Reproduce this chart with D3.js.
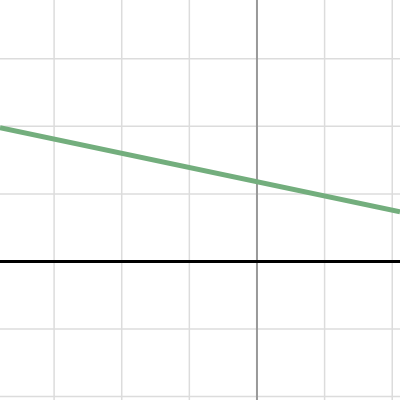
<!DOCTYPE html>
<html><head><meta charset="utf-8">
<script src="https://cdn.jsdelivr.net/npm/d3@7"></script>
<style>html,body{margin:0;padding:0;background:#fff;overflow:hidden}</style>
</head><body>
<script>
// data (graph units)
const xDomain = [-3.80, 2.115];
const yDomain = [-2.05, 3.87];
const gridX = [-3, -2, -1, 0, 1, 2];
const gridY = [-2, -1, 0, 1, 2, 3];
const lineX = [-3.80, 2.115];
const lineY = [1.98, 0.735];

const W = 400, H = 400;
const svg = d3.select("body").append("svg").attr("width", W).attr("height", H);
const x = d3.scaleLinear().domain(xDomain).range([0, W]);
const y = d3.scaleLinear().domain(yDomain).range([H, 0]);

svg.append("g").selectAll("line").data(gridX.filter(d => d !== 0)).join("line")
  .attr("x1", d => x(d)).attr("x2", d => x(d)).attr("y1", 0).attr("y2", H)
  .attr("stroke", "#dcdcdc").attr("stroke-width", 1.5);
svg.append("g").selectAll("line").data(gridY.filter(d => d !== 0)).join("line")
  .attr("y1", d => y(d)).attr("y2", d => y(d)).attr("x1", 0).attr("x2", W)
  .attr("stroke", "#dcdcdc").attr("stroke-width", 1.5);

// y axis (gray)
svg.append("line").attr("x1", x(0)).attr("x2", x(0)).attr("y1", 0).attr("y2", H)
  .attr("stroke", "#999").attr("stroke-width", 2);
// x axis (black)
svg.append("line").attr("y1", y(0)).attr("y2", y(0)).attr("x1", 0).attr("x2", W)
  .attr("stroke", "#000").attr("stroke-width", 3);

const pts = lineX.map((d, i) => [d, lineY[i]]);
svg.append("path").datum(pts)
  .attr("d", d3.line().x(d => x(d[0])).y(d => y(d[1])))
  .attr("fill", "none").attr("stroke", "#73ae7d").attr("stroke-width", 5);
</script>
</body></html>
